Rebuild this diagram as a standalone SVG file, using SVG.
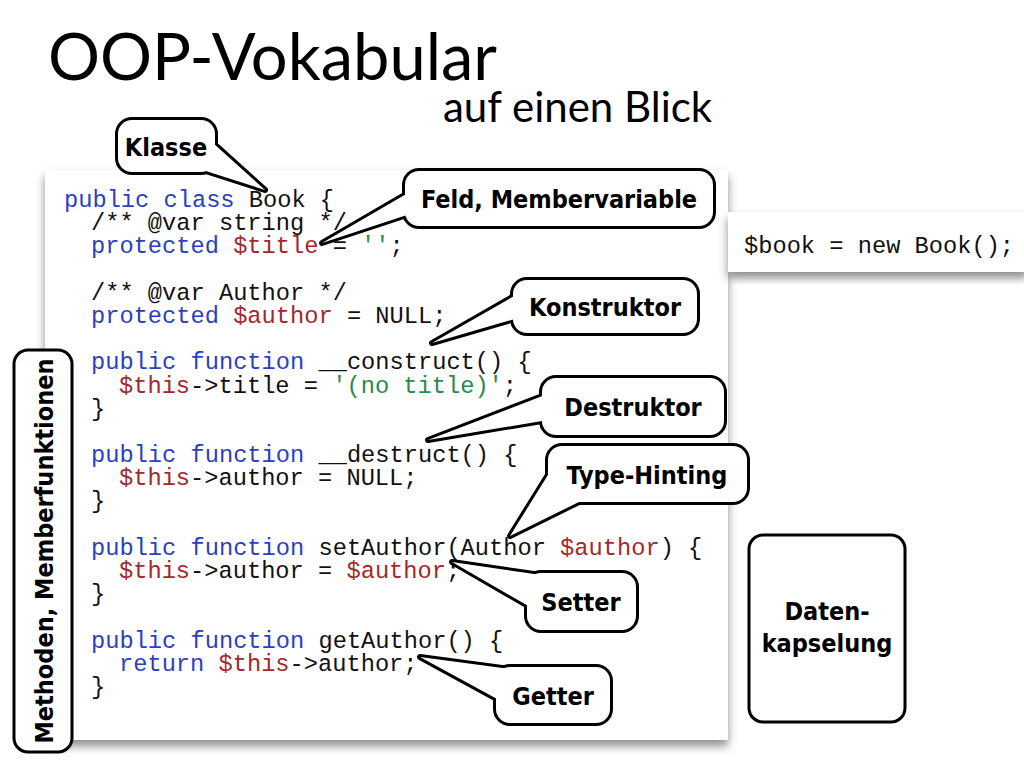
<svg xmlns="http://www.w3.org/2000/svg" width="1024" height="768" viewBox="0 0 1024 768">
<defs>
<filter id="sh" x="-10%" y="-10%" width="120%" height="130%"><feDropShadow dx="0" dy="6" stdDeviation="5" flood-color="#000" flood-opacity="0.45"/></filter>
</defs>
<style>
.code{font-family:"Liberation Mono","Courier New",monospace;font-size:23.7px;fill:#111}
.k{fill:#2b3fbf}.v{fill:#a3282b}.s{fill:#2a8a4a}
.co{stroke:#000;stroke-width:6;stroke-linejoin:round;fill:#000}
.ci{fill:#fff;stroke:none}
.lbl{font-family:"DejaVu Sans",sans-serif;font-stretch:condensed;font-weight:bold;font-size:25px;fill:#000;text-anchor:middle}
</style>
<rect width="1024" height="768" fill="#fff"/>
<text x="48" y="80" font-family="Lato,'Open Sans',sans-serif" font-size="65" fill="#000">OOP-Vokabular</text>
<text x="443" y="122" font-family="Lato,'Open Sans',sans-serif" font-size="42" fill="#000">auf einen Blick</text>
<g id="panel"><rect x="45" y="170" width="683" height="570" fill="#fff" filter="url(#sh)"/></g>
<g id="newbook"><rect x="728" y="212" width="300" height="60" fill="#fff" filter="url(#sh)"/>
<text class="code" x="744" y="253">$book = new Book();</text></g>
<g id="code">
<text class="code" x="64" y="207"><tspan class="k">public class</tspan> Book {</text>
<text class="code" x="91" y="230">/** @var string */</text>
<text class="code" x="91" y="253"><tspan class="k">protected</tspan> <tspan class="v">$title</tspan> = <tspan class="s">''</tspan>;</text>
<text class="code" x="91" y="300">/** @var Author */</text>
<text class="code" x="91" y="323"><tspan class="k">protected</tspan> <tspan class="v">$author</tspan> = NULL;</text>
<text class="code" x="91" y="369"><tspan class="k">public function</tspan> __construct() {</text>
<text class="code" x="119" y="393"><tspan class="v">$this</tspan>-&gt;title = <tspan class="s">'(no title)'</tspan>;</text>
<text class="code" x="91" y="416">}</text>
<text class="code" x="91" y="462"><tspan class="k">public function</tspan> __destruct() {</text>
<text class="code" x="119" y="485"><tspan class="v">$this</tspan>-&gt;author = NULL;</text>
<text class="code" x="91" y="508">}</text>
<text class="code" x="91" y="555"><tspan class="k">public function</tspan> setAuthor(Author <tspan class="v">$author</tspan>) {</text>
<text class="code" x="119" y="578"><tspan class="v">$this</tspan>-&gt;author = <tspan class="v">$author</tspan>;</text>
<text class="code" x="91" y="601">}</text>
<text class="code" x="91" y="648"><tspan class="k">public function</tspan> getAuthor() {</text>
<text class="code" x="119" y="671"><tspan class="k">return</tspan> <tspan class="v">$this</tspan>-&gt;author;</text>
<text class="code" x="91" y="694">}</text>
</g>
<g id="klasse"><g class="co"><rect x="118" y="120" width="97" height="52" rx="14"/><polygon points="190,166 213,143 265,190"/></g><g class="ci"><rect x="118" y="120" width="97" height="52" rx="14"/><polygon points="190,166 213,143 265,190"/></g><text class="lbl" x="166" y="156">Klasse</text></g>
<g id="feld"><g class="co"><rect x="405" y="171" width="308" height="55" rx="14"/><polygon points="408,193 410,214 322,243"/></g><g class="ci"><rect x="405" y="171" width="308" height="55" rx="14"/><polygon points="408,193 410,214 322,243"/></g><text class="lbl" x="559" y="208">Feld, Membervariable</text></g>
<g id="konstruktor"><g class="co"><rect x="513" y="280" width="184" height="53" rx="14"/><polygon points="516,295 518,318 432,343"/></g><g class="ci"><rect x="513" y="280" width="184" height="53" rx="14"/><polygon points="516,295 518,318 432,343"/></g><text class="lbl" x="605" y="316">Konstruktor</text></g>
<g id="destruktor"><g class="co"><rect x="542" y="378" width="182" height="57" rx="14"/><polygon points="545,395 548,420 428,440"/></g><g class="ci"><rect x="542" y="378" width="182" height="57" rx="14"/><polygon points="545,395 548,420 428,440"/></g><text class="lbl" x="633" y="416">Destruktor</text></g>
<g id="typehinting"><g class="co"><rect x="548" y="446" width="199" height="56" rx="14"/><polygon points="551,470 585,499 510,536"/></g><g class="ci"><rect x="548" y="446" width="199" height="56" rx="14"/><polygon points="551,470 585,499 510,536"/></g><text class="lbl" x="647" y="484">Type-Hinting</text></g>
<g id="setter"><g class="co"><rect x="527" y="573" width="109" height="57" rx="14"/><polygon points="530,607 548,576 452,562"/></g><g class="ci"><rect x="527" y="573" width="109" height="57" rx="14"/><polygon points="530,607 548,576 452,562"/></g><text class="lbl" x="581" y="611">Setter</text></g>
<g id="getter"><g class="co"><rect x="496" y="667" width="114" height="56" rx="14"/><polygon points="499,700 518,670 420,657"/></g><g class="ci"><rect x="496" y="667" width="114" height="56" rx="14"/><polygon points="499,700 518,670 420,657"/></g><text class="lbl" x="553" y="705">Getter</text></g>
<g id="methoden"><rect x="14" y="350" width="58" height="402" rx="14" fill="#fff" stroke="#000" stroke-width="3"/><text class="lbl" transform="translate(53,551) rotate(-90)" x="0" y="0">Methoden, Memberfunktionen</text></g>
<g id="daten"><rect x="749" y="535" width="156" height="187" rx="14" fill="#fff" stroke="#000" stroke-width="3"/><text class="lbl" x="827" y="620">Daten-</text><text class="lbl" x="827" y="652">kapselung</text></g>
<g id="connectors"></g>
</svg>
